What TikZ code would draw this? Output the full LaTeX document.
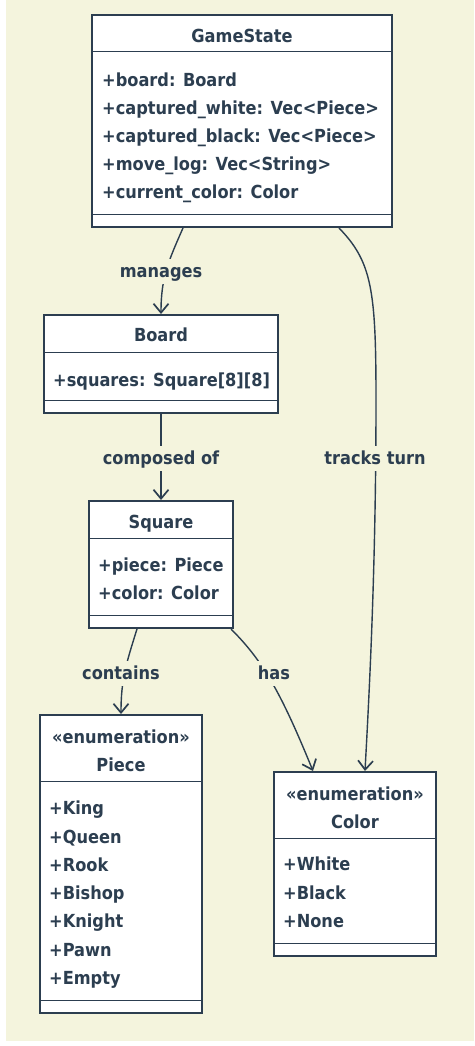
\documentclass[tikz,border=0pt]{standalone}
\usepackage{fontspec}
\setmainfont{DejaVu Sans}[UprightFont={* Bold}, FakeStretch=0.9]
\usetikzlibrary{arrows.meta}
\definecolor{bgc}{RGB}{244,244,221}
\definecolor{ink}{RGB}{44,62,80}
\begin{document}
\begin{tikzpicture}[x=1pt,y=-1pt,
  font=\fontsize{18}{22}\selectfont, text=ink,
  box/.style={draw=ink, line width=2pt, fill=white, inner sep=0pt, rectangle},
  sep/.style={draw=ink, line width=1pt},
  lbl/.style={inner sep=0pt, text height=13pt, text depth=0pt},
  attr/.style={lbl, anchor=west},
  conn/.style={draw=ink, line width=1.4pt, -{Straight Barb[length=9pt,width=15pt,line width=1.7pt]}},
  elabel/.style={lbl, fill=bgc, inner xsep=2pt, inner ysep=6pt}]
\useasboundingbox (0,0) rectangle (474,1046);
\fill[white] (0,0) rectangle (474,1046);
\fill[bgc] (6,0) rectangle (474,1041);

% boxes
\node[box, minimum width=300pt, minimum height=212pt] (gs) at (242,121) {};
\node[box, minimum width=234pt, minimum height=98pt] (board) at (161,364) {};
\node[box, minimum width=144pt, minimum height=127pt] (square) at (161,564.5) {};
\node[box, minimum width=162pt, minimum height=298pt] (piece) at (121,864) {};
\node[box, minimum width=162pt, minimum height=184pt] (color) at (355,864) {};

% separators
\draw[sep] (gs.west |- 0,52) -- (gs.east |- 0,52);
\draw[sep] (gs.west |- 0,214) -- (gs.east |- 0,214);
\draw[sep] (board.west |- 0,352) -- (board.east |- 0,352);
\draw[sep] (board.west |- 0,400) -- (board.east |- 0,400);
\draw[sep] (square.west |- 0,538) -- (square.east |- 0,538);
\draw[sep] (square.west |- 0,615) -- (square.east |- 0,615);
\draw[sep] (piece.west |- 0,781) -- (piece.east |- 0,781);
\draw[sep] (piece.west |- 0,1000) -- (piece.east |- 0,1000);
\draw[sep] (color.west |- 0,838) -- (color.east |- 0,838);
\draw[sep] (color.west |- 0,943) -- (color.east |- 0,943);

% GameState text
\node[lbl] (gsT) at (242,36) {GameState};
\node[attr] (gs1) at (102,80) {+board: Board};
\node[attr] (gs2) at (102,108) {+captured\_white: Vec<Piece>};
\node[attr] (gs3) at (102,136) {+captured\_black: Vec<Piece>};
\node[attr] (gs4) at (102,164) {+move\_log: Vec<String>};
\node[attr] (gs5) at (102,192) {+current\_color: Color};

% Board text
\node[lbl] (boT) at (161,335) {Board};
\node[attr] (bo1) at (53,380) {+squares: Square[8][8]};

% Square text
\node[lbl] (sqT) at (161,522) {Square};
\node[attr] (sq1) at (98,565) {+piece: Piece};
\node[attr] (sq2) at (98,593) {+color: Color};

% Piece text
\node[lbl] (piS) at (121,737) {«enumeration»};
\node[lbl] (piT) at (121,765) {Piece};
\node[attr] (pi1) at (49,808) {+King};
\node[attr] (pi2) at (49,837) {+Queen};
\node[attr] (pi3) at (49,865) {+Rook};
\node[attr] (pi4) at (49,893) {+Bishop};
\node[attr] (pi5) at (49,921) {+Knight};
\node[attr] (pi6) at (49,950) {+Pawn};
\node[attr] (pi7) at (49,978) {+Empty};

% Color text
\node[lbl] (coS) at (355,794) {«enumeration»};
\node[lbl] (coT) at (355,822) {Color};
\node[attr] (co1) at (283,864) {+White};
\node[attr] (co2) at (283,893) {+Black};
\node[attr] (co3) at (283,921) {+None};

% connectors
\draw[conn] ([xshift=-59pt]gs.south) .. controls (168,262) and (161,278) .. (board.north);
\draw[conn] (board.south) -- (square.north);
\draw[conn] ([xshift=-24pt]square.south) .. controls (126,664) and (121,680) .. (piece.north);
\draw[conn] ([xshift=70pt]square.south) .. controls (262,660) and (280,690) .. ([xshift=-42pt]color.north);
\draw[conn] ([xshift=97pt]gs.south) .. controls (372,262) and (376,290) .. (376,400)
  .. controls (376,560) and (370,680) .. ([xshift=10pt]color.north);

% edge labels
\node[elabel] (l1) at (161,271) {manages};
\node[elabel] (l2) at (161,458) {composed of};
\node[elabel] (l3) at (121,673) {contains};
\node[elabel] (l4) at (274,673) {has};
\node[elabel] (l5) at (375,458) {tracks turn};
\end{tikzpicture}
\end{document}
